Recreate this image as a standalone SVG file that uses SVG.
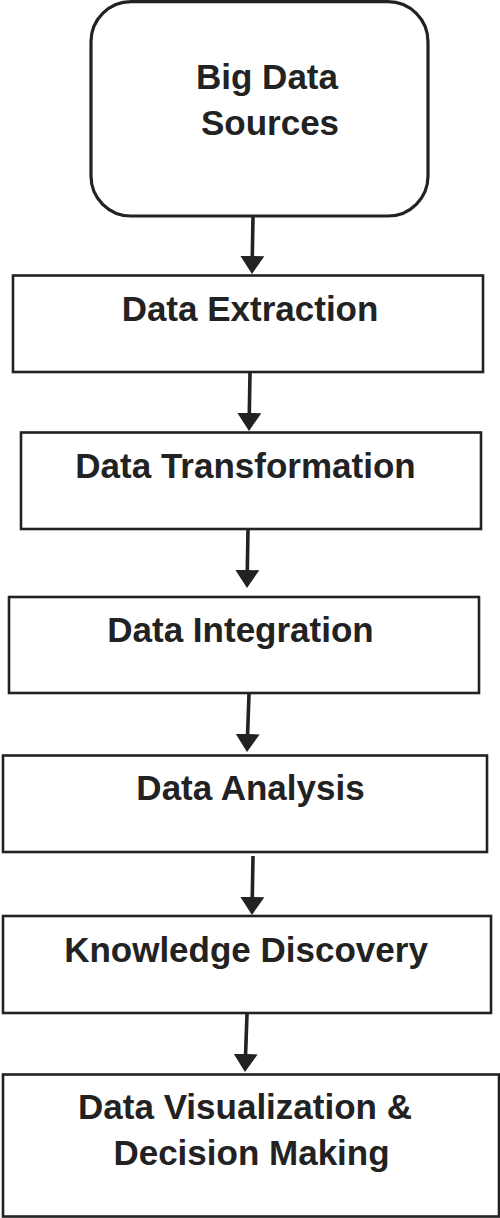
<svg xmlns="http://www.w3.org/2000/svg" width="500" height="1218" viewBox="0 0 500 1218">
<defs>
<style>
.box{fill:#fff;stroke:#222;stroke-width:2.6}
.rbox{fill:#fff;stroke:#222;stroke-width:3.2}
.lbl{font-family:"Liberation Sans",Arial,Helvetica,sans-serif;font-weight:bold;font-size:35px;fill:#222;text-anchor:middle}
.conn{stroke:#222;stroke-width:3.6;fill:none;marker-end:url(#ah)}
</style>
<marker id="ah" markerUnits="userSpaceOnUse" markerWidth="18" markerHeight="24" refX="0" refY="12" orient="auto" viewBox="0 0 18 24">
<path d="M0,0 L18,12 L0,24 Z" fill="#222"/>
</marker>
</defs>
<rect width="500" height="1218" fill="#fff"/>
<g id="connectors">
<path class="conn" d="M253,217 L252.3,256"/>
<path class="conn" d="M250,373 L249.3,413"/>
<path class="conn" d="M248,530 L247.3,570"/>
<path class="conn" d="M249,694 L247.6,734"/>
<path class="conn" d="M253,856 L252.3,897"/>
<path class="conn" d="M247,1014 L245.6,1054"/>
</g>
<g id="n-sources">
<rect class="rbox" x="91" y="1.6" width="337" height="214.4" rx="40" ry="40"/>
<text class="lbl" x="267" y="89">Big Data</text>
<text class="lbl" x="270" y="135">Sources</text>
</g>
<g id="n-extraction">
<rect class="box" x="13" y="275.5" width="470" height="96.5"/>
<text class="lbl" x="250" y="321">Data Extraction</text>
</g>
<g id="n-transformation">
<rect class="box" x="21" y="432.5" width="460" height="96.5"/>
<text class="lbl" x="245.5" y="478">Data Transformation</text>
</g>
<g id="n-integration">
<rect class="box" x="9" y="597" width="470" height="96"/>
<text class="lbl" x="240.5" y="642">Data Integration</text>
</g>
<g id="n-analysis">
<rect class="box" x="3" y="755.5" width="484" height="96.5"/>
<text class="lbl" x="250.5" y="800">Data Analysis</text>
</g>
<g id="n-knowledge">
<rect class="box" x="3" y="916" width="488" height="97"/>
<text class="lbl" x="246" y="962">Knowledge Discovery</text>
</g>
<g id="n-visualization">
<rect class="box" x="3" y="1074.5" width="496" height="142"/>
<text class="lbl" x="245" y="1119">Data Visualization &amp;</text>
<text class="lbl" x="251.5" y="1165">Decision Making</text>
</g>
</svg>
